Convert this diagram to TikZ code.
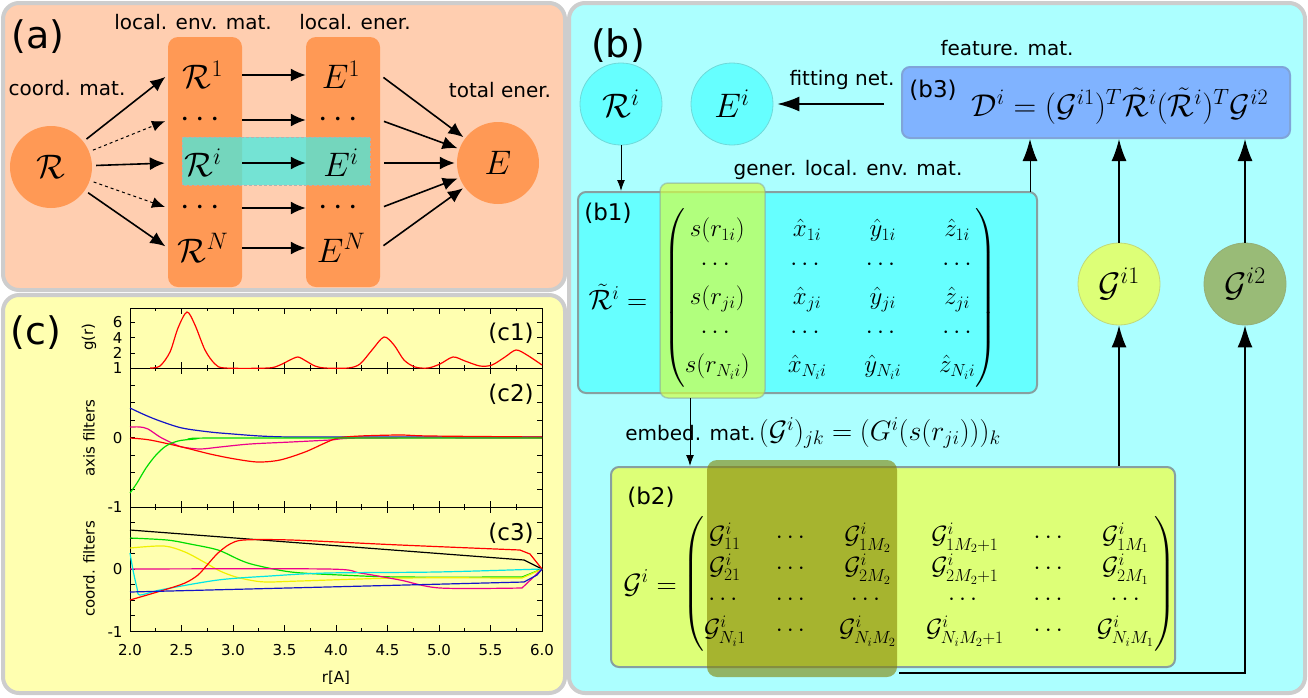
\RequirePackage{fix-cm}
\documentclass[tikz,border=0pt]{standalone}
\usepackage{amsmath}
\usepackage{fontspec}
\setmainfont{DejaVu Sans}
\usetikzlibrary{arrows.meta}

\definecolor{peach}{RGB}{255,206,176}
\definecolor{orng}{RGB}{255,153,85}
\definecolor{tealrow}{RGB}{70,235,225}
\definecolor{cyanbg}{RGB}{172,255,255}
\definecolor{cyanbox}{RGB}{102,255,255}
\definecolor{bluebox}{RGB}{128,179,255}
\definecolor{limebox}{RGB}{221,255,119}
\definecolor{olivebox}{RGB}{153,187,119}
\definecolor{hlyellow}{RGB}{210,255,70}
\definecolor{hlolive}{RGB}{130,130,0}
\definecolor{yellowbg}{RGB}{255,255,176}
\definecolor{framegray}{RGB}{205,205,205}
\definecolor{boxgray}{RGB}{135,160,160}
\definecolor{plotblue}{RGB}{20,20,200}
\definecolor{plotgreen}{RGB}{0,220,0}
\definecolor{plotyellow}{RGB}{240,240,0}
\definecolor{plotcyan}{RGB}{0,230,230}

\begin{document}
\begin{tikzpicture}[x=1pt, y=-1pt,
  panel/.style={draw=framegray, line width=4pt, rounded corners=16pt},
  lbl/.style={font=\fontsize{20}{24}\selectfont},
  tag/.style={font=\fontsize{38}{44}\selectfont},
  subtag/.style={font=\fontsize{23}{27}\selectfont},
  mth/.style={font=\fontsize{34}{40}\selectfont},
  ball/.style={circle, minimum size=82pt, inner sep=0pt, mth},
  column/.style={fill=orng, rounded corners=10pt, minimum width=74pt, minimum height=250pt},
  box/.style={draw=boxgray, line width=2pt, rounded corners=8pt, inner sep=0pt},
  arr/.style={-{Latex[length=15pt,width=13pt]}, line width=1.6pt},
  dasharr/.style={-{Latex[length=13pt,width=11pt]}, line width=1pt, dashed},
  bigarr/.style={-{Latex[length=22pt,width=15pt]}, line width=1.4pt},
  thinarr/.style={-{Latex[length=11pt,width=8pt]}, line width=1pt},
  tick/.style={line width=0.7pt},
  ticklbl/.style={font=\fontsize{15}{18}\selectfont},
  curve/.style={line width=1.2pt},
]
\useasboundingbox (0,0) rectangle (1308,697);

% Panel (a)
\draw[panel, fill=peach] (3,3) rectangle (565,290);
\node[tag] (ta) at (38,37) {(a)};
\node[lbl] (lenv) at (193,22) {local. env. mat.};
\node[lbl] (lener) at (355,22) {local. ener.};
\node[lbl] (lcoord) at (67,88) {coord. mat.};
\node[lbl] (ltot) at (500,90) {total ener.};

% Kolonner med lokale matriser og energier
\node[column] (colR) at (205,162) {};
\node[column] (colE) at (343,162) {};
\fill[tealrow, fill opacity=0.75, draw=gray!60, densely dashed, line width=0.5pt] (182,137) rectangle (370,185);

\node[mth] (r1) at (203,75) {$\mathcal{R}^1$};
\node[mth] (rd1) at (203,120) {$\cdots$};
\node[mth] (ri) at (203,163) {$\mathcal{R}^i$};
\node[mth] (rd2) at (203,208) {$\cdots$};
\node[mth] (rN) at (203,248) {$\mathcal{R}^N$};
\node[mth] (e1) at (341,75) {$E^1$};
\node[mth] (ed1) at (341,120) {$\cdots$};
\node[mth] (ei) at (341,163) {$E^i$};
\node[mth] (ed2) at (341,208) {$\cdots$};
\node[mth] (eN) at (341,248) {$E^N$};

\node[ball, fill=orng] (Rc) at (51,167) {$\mathcal{R}$};
\node[ball, fill=orng] (Ec) at (498,163) {$E$};

% Piler i (a)
\foreach \a/\b in {r1/e1, rd1/ed1, ri/ei, rd2/ed2, rN/eN}
  \draw[arr] (\a -| colR.east) -- (\b -| colE.west);
\foreach \a in {r1, ri, rN}
  \draw[arr, shorten <=4pt, shorten >=3pt] (Rc) -- (\a -| colR.west);
\foreach \a in {rd1, rd2}
  \draw[dasharr, shorten <=4pt, shorten >=3pt] (Rc) -- (\a -| colR.west);
\foreach \b in {e1, ed1, ei, ed2, eN}
  \draw[arr, shorten <=4pt, shorten >=2pt] (\b -| colE.east) -- (Ec);

% Panel (b)
\draw[panel, fill=cyanbg] (569,3) rectangle (1305,693);
\node[tag] (tb) at (618,46) {(b)};
\node[lbl] (lfeat) at (1007,48) {feature. mat.};
\node[ball, fill=cyanbox, draw=cyanbox!70!gray, line width=0.8pt] (Ri) at (621,104) {$\mathcal{R}^i$};
\node[ball, fill=cyanbox, draw=cyanbox!70!gray, line width=0.8pt] (Ei) at (732,104) {$E^i$};

% (b3)
\node[box, draw=bluebox!70!gray, fill=bluebox, minimum width=388pt, minimum height=71pt] (b3) at (1096,102.5) {};
\node[subtag] (tb3) at (933,90) {(b3)};
\node[font=\fontsize{31.5}{36}\selectfont] (fb3) at (1120,106)
  {$\mathcal{D}^i=(\mathcal{G}^{i1})^T\tilde{\mathcal{R}}^i(\tilde{\mathcal{R}}^i)^T\mathcal{G}^{i2}$};
\node[lbl] (lfit) at (842,80) {fitting net.};

% (b1)
\node[lbl] (lgen) at (848,170) {gener. local. env. mat.};
\node[box, fill=cyanbox, minimum width=459pt, minimum height=201pt] (b1) at (807.5,292.5) {};
\node[fill=hlyellow, fill opacity=0.7, draw=boxgray, draw opacity=0.5, line width=1.5pt, rounded corners=8pt,
  minimum width=105pt, minimum height=215pt] (hl1) at (712.5,290.5) {};
\node[subtag] (tb1) at (608,213) {(b1)};
\node[font=\fontsize{28}{34}\selectfont] (rt) at (618,297) {$\tilde{\mathcal{R}}^i=$};
\node[font=\fontsize{25}{34}\selectfont] (m1) at (830,298) {\arraycolsep=19pt
  $\begin{pmatrix}
    s(r_{1i}) & \hat{x}_{1i} & \hat{y}_{1i} & \hat{z}_{1i}\\
    \cdots & \cdots & \cdots & \cdots\\
    s(r_{ji}) & \hat{x}_{ji} & \hat{y}_{ji} & \hat{z}_{ji}\\
    \cdots & \cdots & \cdots & \cdots\\
    s(r_{N_ii}) & \hat{x}_{N_ii} & \hat{y}_{N_ii} & \hat{z}_{N_ii}
  \end{pmatrix}$};

% (b2)
\node[lbl] (lemb) at (813,433) {embed. mat.\,{\fontsize{28}{34}\selectfont$(\mathcal{G}^i)_{jk}=(G^i(s(r_{ji})))_k$}};
\node[box, fill=limebox, minimum width=564pt, minimum height=200pt] (b2) at (893,567) {};
\node[fill=hlolive, fill opacity=0.6, rounded corners=10pt, minimum width=190pt, minimum height=217pt] (hl2) at (802,568.5) {};
\node[subtag] (tb2) at (651,497) {(b2)};
\node[font=\fontsize{28}{34}\selectfont] (gt) at (650,583) {$\mathcal{G}^i=$};
\node[font=\fontsize{25}{31}\selectfont] (m2) at (929,584) {\arraycolsep=15pt
  $\begin{pmatrix}
    \mathcal{G}^i_{11} & \cdots & \mathcal{G}^i_{1M_2} & \mathcal{G}^i_{1M_2+1} & \cdots & \mathcal{G}^i_{1M_1}\\
    \mathcal{G}^i_{21} & \cdots & \mathcal{G}^i_{2M_2} & \mathcal{G}^i_{2M_2+1} & \cdots & \mathcal{G}^i_{2M_1}\\
    \cdots & \cdots & \cdots & \cdots & \cdots & \cdots\\
    \mathcal{G}^i_{N_i1} & \cdots & \mathcal{G}^i_{N_iM_2} & \mathcal{G}^i_{N_iM_2+1} & \cdots & \mathcal{G}^i_{N_iM_1}
  \end{pmatrix}$};

% Filtre G^{i1} og G^{i2}
\node[ball, fill=limebox, draw=limebox!70!gray, line width=0.8pt] (G1) at (1119,284) {$\mathcal{G}^{i1}$};
\node[ball, fill=olivebox, draw=olivebox!80!gray, line width=0.8pt] (G2) at (1245,284) {$\mathcal{G}^{i2}$};

% Piler i (b)
\coordinate (up1) at (1030,192);
\coordinate (dn1) at (690,398);
\coordinate (g2tail) at (899,673);
\draw[thinarr] (Ri) -- (Ri |- b1.north);
\draw[bigarr, line width=1pt] (up1) -- (up1 |- b3.south);
\draw[bigarr, shorten <=17pt, shorten >=4pt] (b3.west |- Ei) -- (Ei);
\draw[thinarr] (dn1) -- (dn1 |- b2.north);
\draw[bigarr] (G1) -- (G1 |- b3.south);
\draw[bigarr] (G2) -- (G2 |- b3.south);
\draw[bigarr] (G1 |- b2.north) -- (G1);
\draw[bigarr] (g2tail) -- (g2tail -| G2) -- (G2);

% Panel (c)
\draw[panel, fill=yellowbg] (3,295) rectangle (565,693);
\node[tag] (tc) at (36,333) {(c)};
\draw[line width=1pt] (130,308) rectangle (542,631);
\draw[line width=1pt] (130,368) -- (542,368);
\draw[line width=1pt] (130,507) -- (542,507);

% Merker paa aksene
\foreach \i in {1,...,7}
  \foreach \ty/\dir in {308/1, 368/-1, 368/1, 507/-1, 507/1, 631/-1}
    \draw[tick] ({130+\i*51.5},\ty) -- ++(0,\dir*6);
\foreach \i in {0,...,7}
  \foreach \ty/\dir in {308/1, 368/-1, 368/1, 507/-1, 507/1, 631/-1}
    \draw[tick] ({155.75+\i*51.5},\ty) -- ++(0,\dir*3);
\foreach \ty in {322,337,353}
  \draw[tick] (130,\ty) -- ++(5,0) (542,\ty) -- ++(-5,0);
\foreach \k in {-3,...,3}
  \draw[tick] (130,{437.5-\k*17.4}) -- ++(5,0) (542,{437.5-\k*17.4}) -- ++(-5,0);
\foreach \k in {-3,...,3}
  \draw[tick] (130,{569-\k*15.5}) -- ++(5,0) (542,{569-\k*15.5}) -- ++(-5,0);

% Tall paa aksene
\foreach \v [count=\k from 0] in {2.0,2.5,3.0,3.5,4.0,4.5,5.0,5.5,6.0}
  \node[ticklbl] (xl\k) at ({130+\k*51.5},650) {\v};
\foreach \v/\ty [count=\k] in {6/322, 4/338, 2/353, 1/368, 0/438, -1/507, 0/569, -1/632}
  \node[ticklbl, anchor=east] (yl\k) at (126,\ty) {\v};
\node[ticklbl] (lr) at (336,678) {r[A]};
\node[ticklbl, rotate=90] (lg) at (89,337) {g(r)};
\node[ticklbl, rotate=90] (lax) at (89,438) {axis filters};
\node[ticklbl, rotate=90] (lco) at (89,569) {coord. filters};
\node[subtag] (tc1) at (511,333) {(c1)};
\node[subtag] (tc2) at (511,394) {(c2)};
\node[subtag] (tc3) at (511,533) {(c3)};

% (c1) g(r)
\draw[curve, red] plot[smooth] coordinates {(150,368) (160,366) (170,352) (178,328) (187,312) (195,325) (205,350) (215,364) (225,368) (268,368) (280,365) (290,360) (298,357) (306,361) (315,366) (325,368) (348,368) (360,364) (372,350) (384,337) (394,345) (404,360) (415,367) (428,368) (440,364) (453,357) (465,361) (480,366) (492,365) (505,357) (516,350) (527,355) (542,365)};

% (c2) aksefiltre
\draw[curve, plotblue] plot[smooth] coordinates {(130,408) (145,415) (160,421) (182,428) (210,432) (233,434) (260,436) (291,437) (360,437) (542,437)};
\draw[curve, magenta] plot[smooth] coordinates {(130,427) (140,427) (148,429) (160,437) (172,443) (182,447) (200,449) (220,447) (250,444) (291,442) (330,440) (364,438) (542,438)};
\draw[curve, red] plot[smooth] coordinates {(130,438) (150,440) (182,447) (210,454) (235,459) (258,462) (280,460) (305,452) (325,443) (338,438) (360,436) (400,435) (430,436) (542,437)};
\draw[curve, plotgreen] plot[smooth] coordinates {(130,493) (137,483) (146,468) (156,455) (166,446) (178,441) (195,439) (220,438) (542,438)};

% (c3) koordinatfiltre
\draw[curve, black] (130,530) -- (524,560) -- (542,569);
\draw[curve, plotgreen] plot[smooth] coordinates {(130,538) (167,540) (190,544) (218,550) (240,560) (255,565) (291,572) (340,575) (400,577) (522,577)} -- (542,569);
\draw[curve, plotyellow] plot[smooth] coordinates {(130,548) (164,546) (185,552) (204,562) (220,571) (236,577) (255,581) (269,582) (300,581) (400,578) (522,578)} -- (542,569);
\draw[curve, magenta] plot[smooth] coordinates {(130,569) (327,569) (360,573) (400,580) (440,588) (522,588)} -- (542,569);
\draw[curve, plotcyan] plot[smooth] coordinates {(130,553) (133,570) (137,588) (140,595) (160,590) (218,580) (270,576) (327,573) (436,572) (542,569)};
\draw[curve, red] plot[smooth] coordinates {(130,600) (164,590) (185,583) (198,575) (208,564) (218,553) (230,544) (244,540) (291,540) (400,545) (520,550)} -- (530,554) -- (542,569);
\draw[curve, plotblue] (130,592) -- (524,582) -- (537,575) -- (542,569);
\end{tikzpicture}
\end{document}
